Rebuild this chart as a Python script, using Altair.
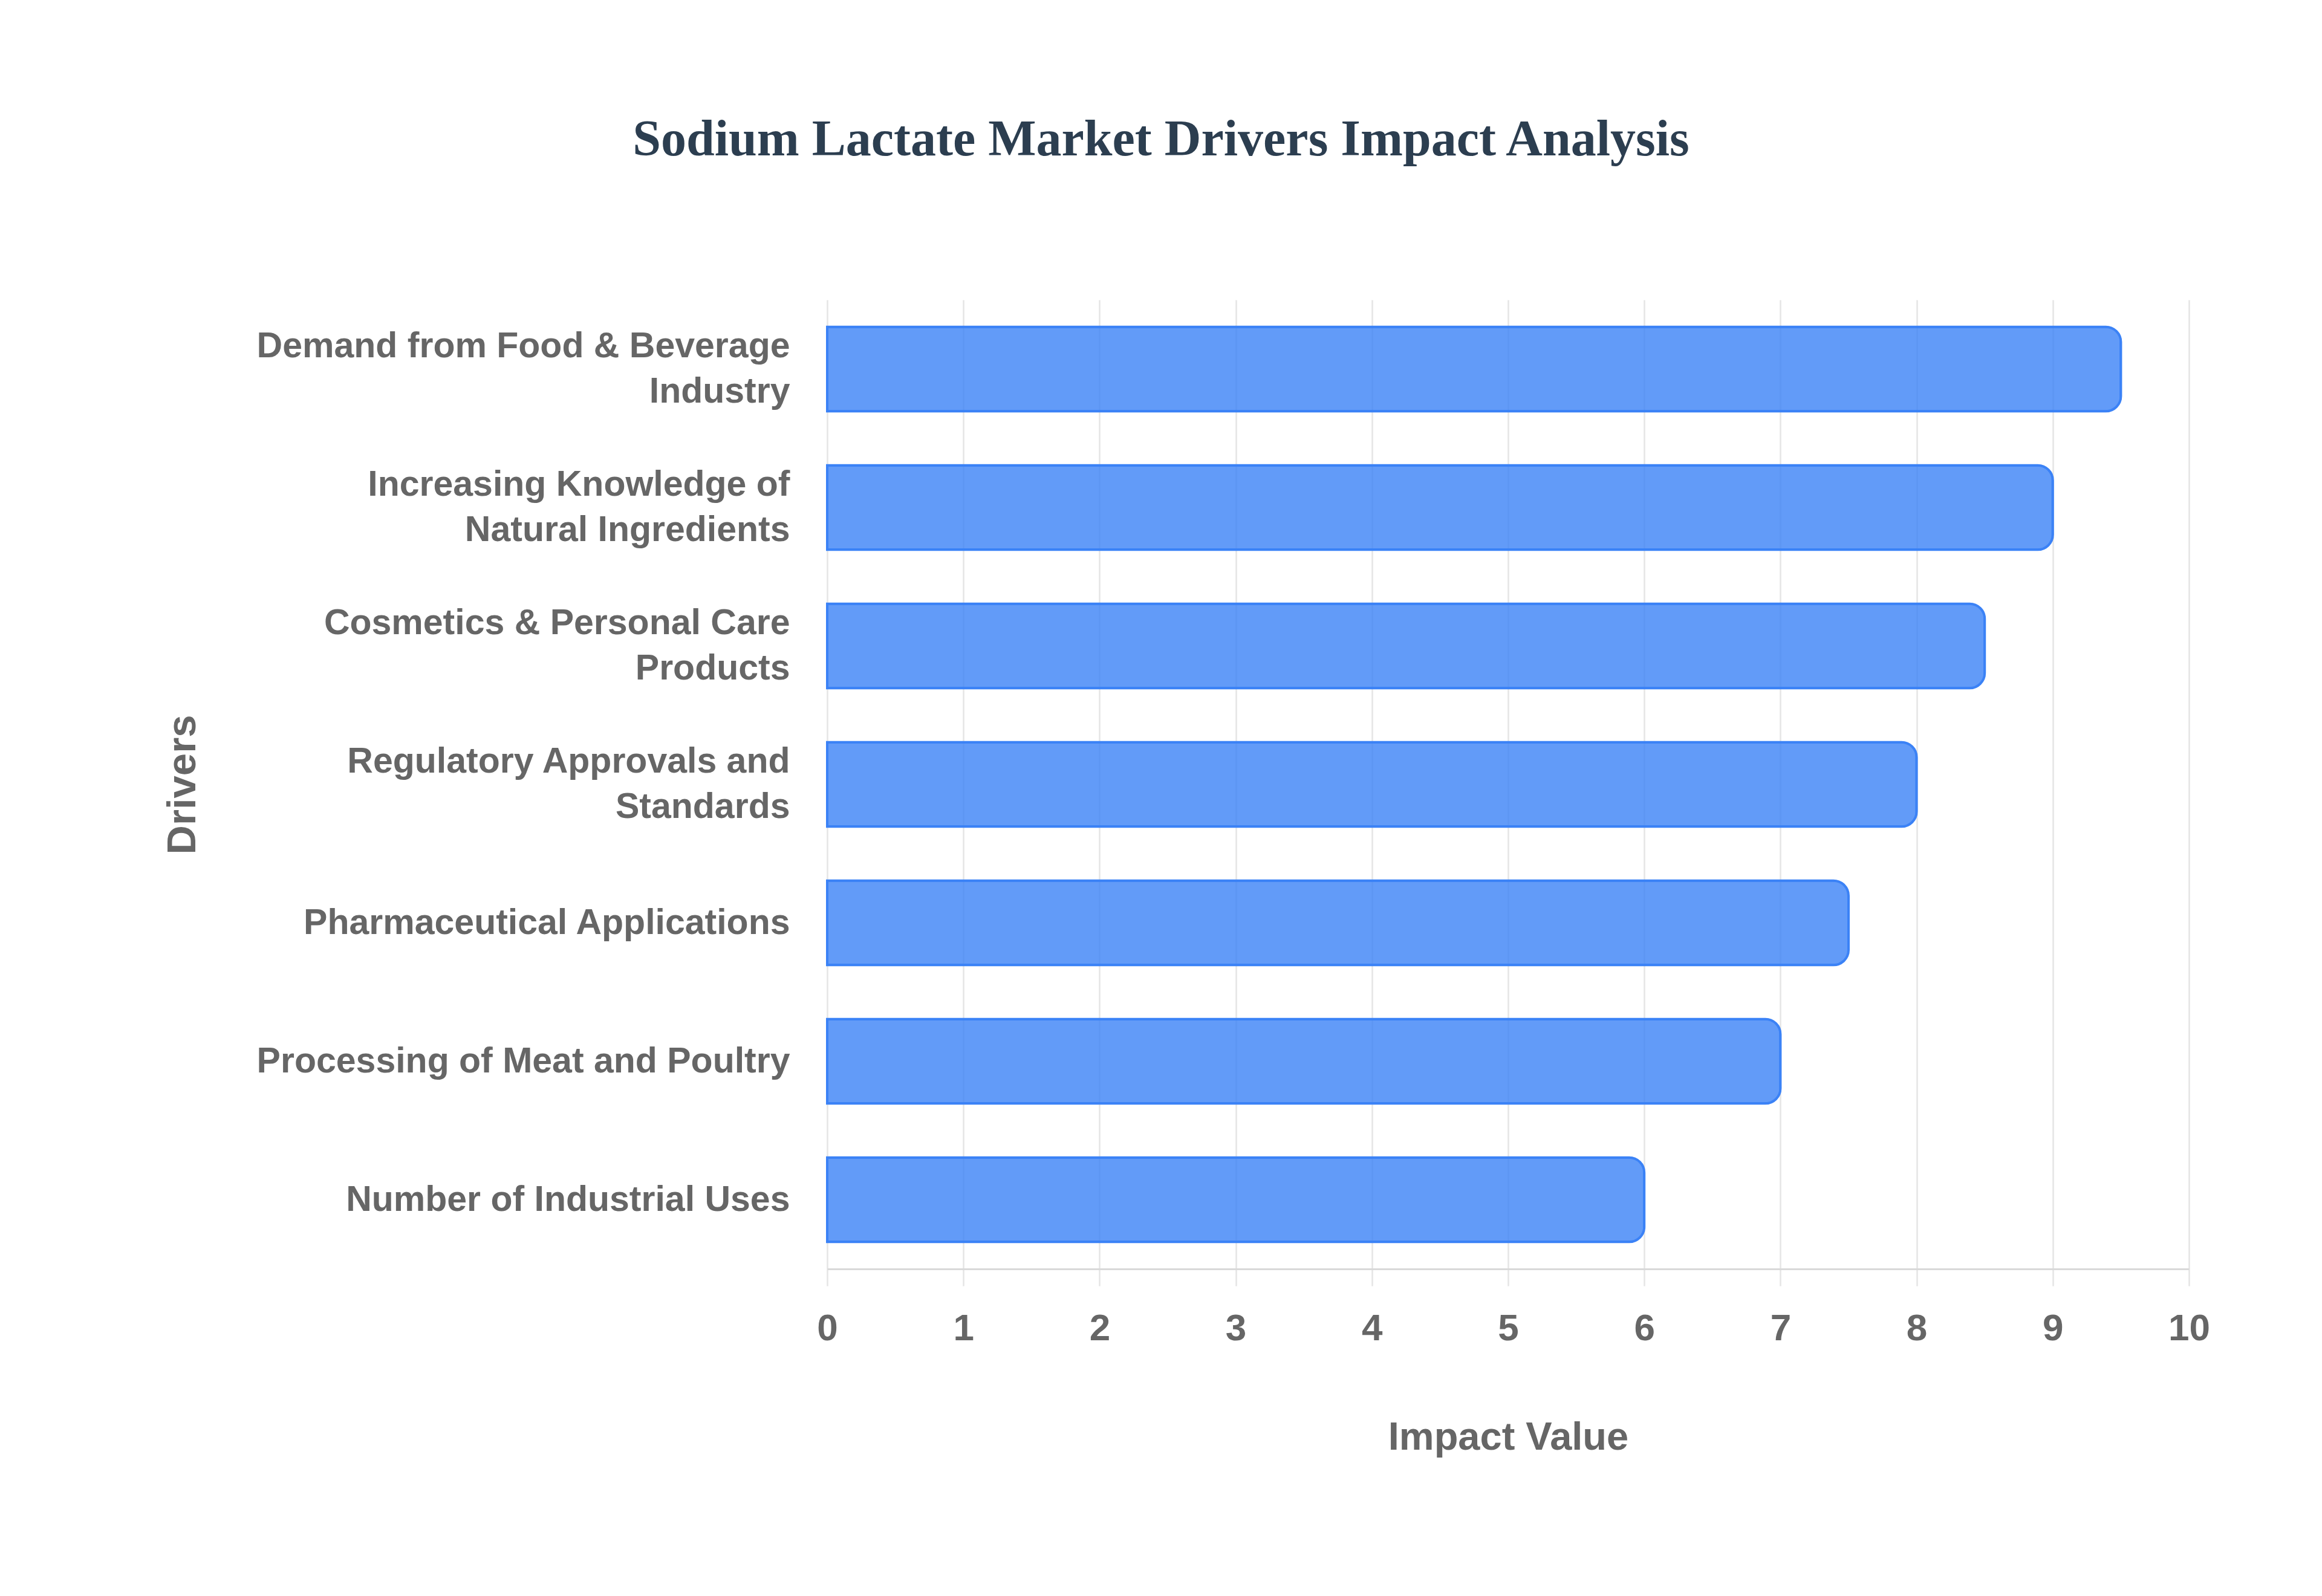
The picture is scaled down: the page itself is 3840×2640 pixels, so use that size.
import altair as alt
import pandas as pd

drivers = [
    "Demand from Food & Beverage Industry",
    "Increasing Knowledge of Natural Ingredients",
    "Cosmetics & Personal Care Products",
    "Regulatory Approvals and Standards",
    "Pharmaceutical Applications",
    "Processing of Meat and Poultry",
    "Number of Industrial Uses",
]
impact = [9.5, 9.0, 8.5, 8.0, 7.5, 7.0, 6.0]
label_lines = [
    ["Demand from Food & Beverage", "Industry"],
    ["Increasing Knowledge of", "Natural Ingredients"],
    ["Cosmetics & Personal Care", "Products"],
    ["Regulatory Approvals and", "Standards"],
    ["Pharmaceutical Applications"],
    ["Processing of Meat and Poultry"],
    ["Number of Industrial Uses"],
]
x_ticks = [0, 1, 2, 3, 4, 5, 6, 7, 8, 9, 10]

df = pd.DataFrame({"Driver": drivers, "Impact": impact})

# build label expression for wrapped labels
expr = "datum.label"
for name, lines in reversed(list(zip(drivers, label_lines))):
    arr = "[" + ",".join("'" + l + "'" for l in lines) + "]"
    expr = f"datum.label == '{name}' ? {arr} : ({expr})"

two_line = [n for n, l in zip(drivers, label_lines) if len(l) > 1]
two_line_test = "indexof([" + ",".join("'" + n + "'" for n in two_line) + "], datum.value) >= 0"

W, H = 2252, 1603
PL, PT = 1360, 488
PR = 3824 - PL - W
PB = 2624 - PT - H
LINE_H = 75

AXIS_GREY = "#666666"
GRID = "#e5e5e5"

bars = alt.Chart(df).mark_bar(
    color="#3B82F6",
    fillOpacity=0.8,
    stroke="#3B82F6",
    strokeWidth=4,
    cornerRadiusEnd=25,
).encode(
    x=alt.X(
        "Impact:Q",
        scale=alt.Scale(domain=[0, 10], nice=False, zero=True),
        axis=alt.Axis(
            title="Impact Value",
            values=x_ticks,
            format="d",
            grid=True,
            gridColor=GRID,
            gridWidth=2.5,
            domain=True,
            domainColor="#d9d9d9",
            domainWidth=3,
            ticks=True,
            tickColor=GRID,
            tickWidth=2.5,
            tickSize=28,
            labelPadding=40,
            labelFlush=False,
            labelFont="Liberation Sans",
            labelFontWeight="bold",
            labelFontSize=62,
            labelColor=AXIS_GREY,
            titleFont="Liberation Sans",
            titleFontWeight="bold",
            titleFontSize=65,
            titleColor=AXIS_GREY,
            titleBaseline="alphabetic",
            titleY=298,
            titleX=W / 2,
            titleAlign="center",
        ),
    ),
    y=alt.Y(
        "Driver:N",
        sort=drivers,
        scale=alt.Scale(paddingInner=0.39, paddingOuter=0.195),
        axis=alt.Axis(
            title="Drivers",
            grid=False,
            domain=False,
            ticks=False,
            tickSize=0,
            labelPadding=62,
            labelExpr=expr,
            labelLineHeight=LINE_H,
            labelOffset={"condition": {"test": two_line_test, "value": -LINE_H / 2}, "value": 0},
            labelFont="Liberation Sans",
            labelFontWeight="bold",
            labelFontSize=59,
            labelColor=AXIS_GREY,
            labelLimit=2000,
            titleFont="Liberation Sans",
            titleFontWeight="bold",
            titleFontSize=67,
            titleColor=AXIS_GREY,
            titleAngle=270,
            titleAlign="center",
            titleBaseline="middle",
            titleX=-1066,
            titleY=H / 2,
        ),
    ),
)

chart = bars.properties(
    width=W,
    height=H,
    title=alt.TitleParams(
        text="Sodium Lactate Market Drivers Impact Analysis",
        font="Liberation Serif",
        fontWeight="bold",
        fontSize=84,
        color="#2c3e50",
        anchor="middle",
        frame="group",
        baseline="alphabetic",
        offset=155,
        dx=1920 - (PL + 8 + W / 2),
    ),
    autosize=alt.AutoSizeParams(type="none"),
    padding={"left": PL, "top": PT, "right": PR, "bottom": PB},
    background="white",
).configure_view(stroke=None)

chart.save("out.html", embed_options={"renderer": "svg", "actions": False})
